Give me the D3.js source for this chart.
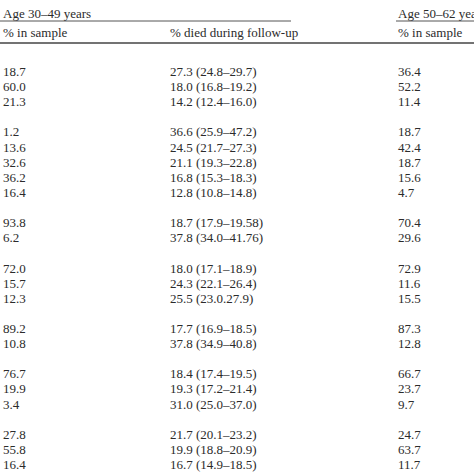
<!DOCTYPE html>
<html>
<head>
<meta charset="utf-8">
<script src="https://cdn.jsdelivr.net/npm/d3@7"></script>
<style>
  body { margin: 0; background: #fff; }
  text { font-family: "Liberation Serif", "DejaVu Serif", serif; font-size: 13px; fill: #2b2b2b; }
</style>
</head>
<body>
<svg id="chart" width="474" height="474"></svg>
<script>
// table values, grouped (null = blank spacer row)
var sample30 = ["18.7","60.0","21.3",null,"1.2","13.6","32.6","36.2","16.4",null,"93.8","6.2",null,"72.0","15.7","12.3",null,"89.2","10.8",null,"76.7","19.9","3.4",null,"27.8","55.8","16.4"];
var died30 = ["27.3 (24.8–29.7)","18.0 (16.8–19.2)","14.2 (12.4–16.0)",null,"36.6 (25.9–47.2)","24.5 (21.7–27.3)","21.1 (19.3–22.8)","16.8 (15.3–18.3)","12.8 (10.8–14.8)",null,"18.7 (17.9–19.58)","37.8 (34.0–41.76)",null,"18.0 (17.1–18.9)","24.3 (22.1–26.4)","25.5 (23.0.27.9)",null,"17.7 (16.9–18.5)","37.8 (34.9–40.8)",null,"18.4 (17.4–19.5)","19.3 (17.2–21.4)","31.0 (25.0–37.0)",null,"21.7 (20.1–23.2)","19.9 (18.8–20.9)","16.7 (14.9–18.5)"];
var sample50 = ["36.4","52.2","11.4",null,"18.7","42.4","18.7","15.6","4.7",null,"70.4","29.6",null,"72.9","11.6","15.5",null,"87.3","12.8",null,"66.7","23.7","9.7",null,"24.7","63.7","11.7"];
var groupHeads = ["Age 30–49 years", "Age 50–62 years"];
var colHeads = ["% in sample", "% died during follow-up", "% in sample"];

var svg = d3.select("#chart");
var columns = ["s30", "d30", "s50"];
var x = d3.scaleOrdinal().domain(columns).range([3, 170, 398]);
var y = d3.scaleLinear().domain([0, 26]).range([76, 469]);

// header
svg.append("text").attr("x", x("s30")).attr("y", 18).text(groupHeads[0]);
svg.append("text").attr("x", x("s50")).attr("y", 18).text(groupHeads[1]);
svg.append("line").attr("x1", 0).attr("x2", 291).attr("y1", 21).attr("y2", 21).attr("stroke", "#555").attr("stroke-width", 1);
svg.append("line").attr("x1", 396).attr("x2", 474).attr("y1", 21).attr("y2", 21).attr("stroke", "#555").attr("stroke-width", 1);
svg.selectAll("text.colhead").data(colHeads).enter().append("text")
  .attr("class", "colhead")
  .attr("x", function(d, i) { return x(columns[i]); })
  .attr("y", 37)
  .text(function(d) { return d; });
svg.append("line").attr("x1", 0).attr("x2", 474).attr("y1", 43).attr("y2", 43).attr("stroke", "#444").attr("stroke-width", 1.3);

// body
var cols = { s30: sample30, d30: died30, s50: sample50 };
columns.forEach(function(c) {
  var rows = cols[c].map(function(v, i) { return { v: v, i: i }; })
    .filter(function(r) { return r.v !== null; });
  svg.selectAll("text." + c).data(rows).enter()
    .append("text")
    .attr("class", c)
    .attr("x", x(c))
    .attr("y", function(r) { return y(r.i); })
    .text(function(r) { return r.v; });
});
</script>
</body>
</html>
